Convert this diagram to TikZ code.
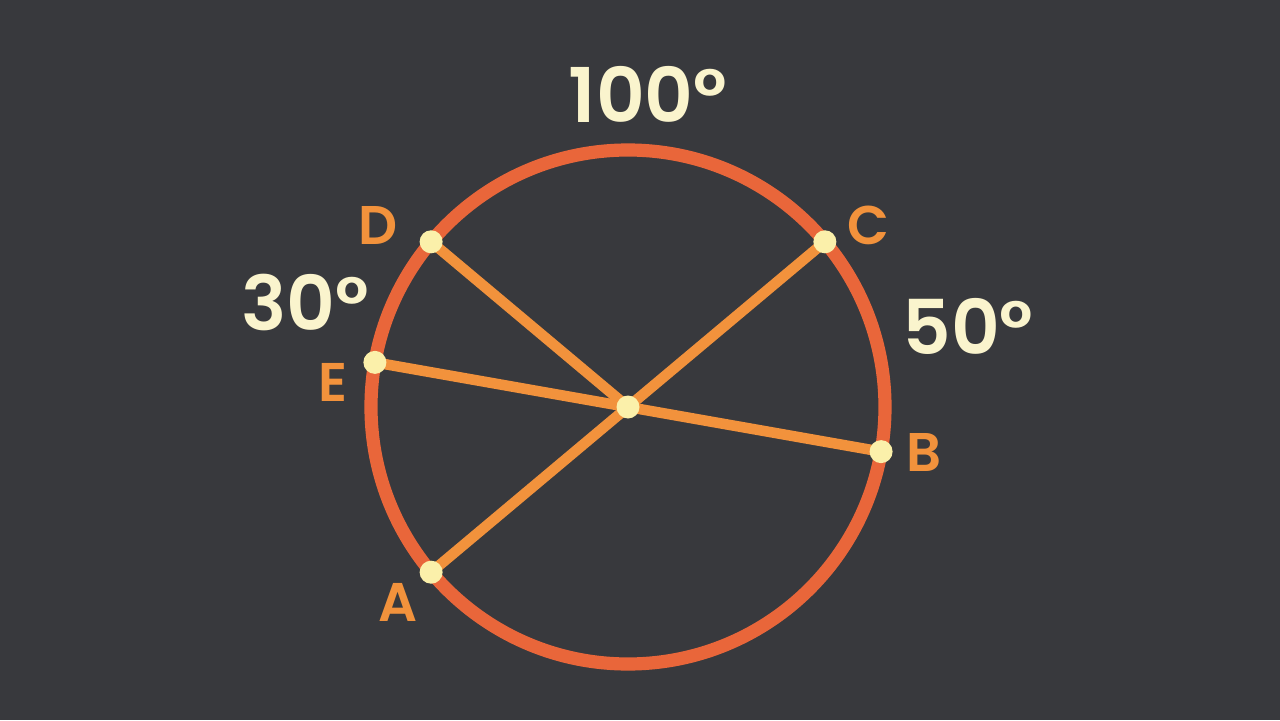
\documentclass[tikz,border=0pt]{standalone}
\usepackage{fontspec}
\setmainfont{Poppins}
\newfontfamily\labelFont{Poppins SemiBold}
\usetikzlibrary{calc}
\definecolor{board}{RGB}{56,57,61}
\definecolor{ringRed}{RGB}{233,102,58}
\definecolor{chordOrange}{RGB}{242,146,60}
\definecolor{dotYellow}{RGB}{251,240,170}
\definecolor{arcCream}{RGB}{250,244,205}
\newcommand{\drawDot}[1]{
	\fill[dotYellow] (#1) circle (11.5);
}
\newcommand{\drawChord}[2]{
	\draw[chordOrange, line width=6pt, line cap=round] (#1) -- (#2);
}
\newcommand{\putLetter}[3]{
	\node[text=chordOrange, font=\labelFont\fontsize{31}{31}\selectfont] (#1) at (#2) {#3};
}
\newcommand{\putArc}[3]{
	\node[text=arcCream, font=\labelFont\fontsize{43}{43}\selectfont] (#1) at (#2) {#3};
}

\begin{document}
\begin{tikzpicture}[x=0.02cm,y=0.02cm]

		\fill[board] (-628,-313) rectangle (652,407);
		\useasboundingbox (-628,-313) rectangle (652,407);

		\coordinate (P_O) at (0,0);
		\coordinate (P_C) at (40:257);
		\coordinate (P_D) at (140:257);
		\coordinate (P_E) at (170:257);
		\coordinate (P_A) at (220:257);
		\coordinate (P_B) at (-10:257);

		\draw[ringRed, line width=7.5pt] (P_O) circle (257);

		\drawChord{P_A}{P_C}
		\drawChord{P_E}{P_B}
		\drawChord{P_D}{P_O}

		\drawDot{P_O}
		\drawDot{P_A}
		\drawDot{P_B}
		\drawDot{P_C}
		\drawDot{P_D}
		\drawDot{P_E}

		\putLetter{L_D}{-250,182}{D}
		\putLetter{L_C}{240,182}{C}
		\putLetter{L_E}{-295,25}{E}
		\putLetter{L_B}{296,-45}{B}
		\putLetter{L_A}{-230,-195}{A}

		\putArc{T_DC}{20,313}{100°}
		\putArc{T_DE}{-323,104}{30°}
		\putArc{T_CB}{340,81}{50°}

	\end{tikzpicture}
\end{document}
